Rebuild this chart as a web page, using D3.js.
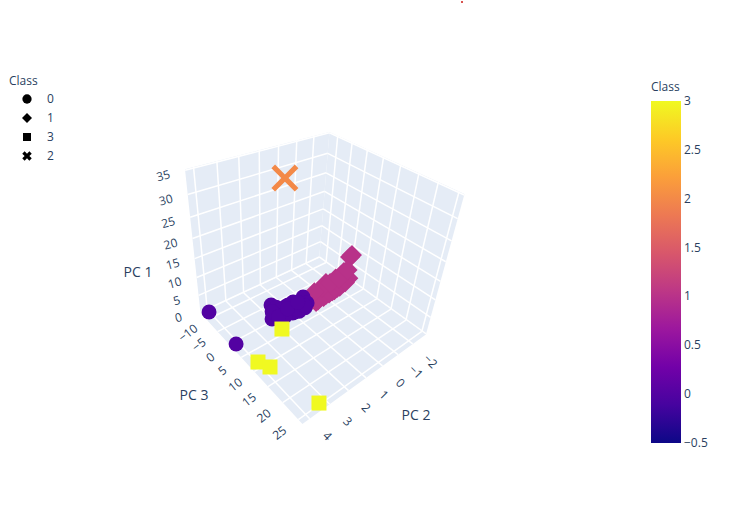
<!DOCTYPE html>
<html><head><meta charset="utf-8">
<script src="https://cdn.jsdelivr.net/npm/d3@7"></script>
<style>html,body{margin:0;background:#fff}svg{display:block}text{font-family:"Open Sans",sans-serif}</style>
</head><body><svg id="c" width="740" height="529"></svg>
<script>
// Data: each mark is [PC 1, PC 2, PC 3]
const class0 = [[1,4.13,-10.76],[1,4.23,1.99],[7.96,2.56,3],[3.82,2.5,3],[5.59,1.35,3],[5.54,0.77,3],[3.06,0.5,3],[4.35,2.07,3],[3.07,1.5,3],[3.46,1.1,3],[5.19,1.97,3],[5.42,2.34,3],[5.35,1.8,3],[4.17,0.94,3],[4.95,2.18,3],[3.27,1.8,3],[2.29,1.23,3],[2.69,0.94,3],[5.48,1.62,3],[1.89,0.61,3],[6.6,2.29,3],[5.9,2.5,3],[2.3,1.34,3],[2.67,1.77,3],[3.46,2.15,3],[1.81,0.96,3],[2.64,0.64,3],[4.43,1.66,3],[4.78,1.07,3]];
const class1 = [[10.8,-2.19,3],[10.49,-2.07,3],[6.74,-1.77,3],[4.81,-1.82,3],[6.19,-0.61,3],[4.73,-1.1,3],[5.17,-1.41,3],[2.66,-0.95,3],[2.74,-1.41,3],[3.34,-1.8,3],[3.08,-0.3,3],[2.38,-0.69,3],[3.16,0.2,3],[1.85,-0.07,3],[4.57,-0.33,3],[4.25,-0.75,3],[6.01,-1.24,3],[6.17,-1.59,3],[4.01,-2.03,3],[3.61,-1.59,3],[2.49,-1.1,3],[4.57,-0.05,3],[3.93,-2.15,3],[3.13,-1.94,3],[2.65,-1.59,3],[2.49,-1.24,3],[2.33,-0.89,3],[2.17,-0.54,3],[2.01,-0.19,3],[5.37,-0.4,3],[5.53,-0.89,3],[5.53,-1.45,3],[5.21,0.09,3],[6.81,-2.01,3]];
const class2 = [[31.67,0.8,-5]];
const class3 = [[1,2.17,4.56],[1,4.07,9.28],[1,3.84,11.98],[1,3.42,25.35]];
const classOrder = ["0","1","3","2"];
const pc1Ticks = [0,5,10,15,20,25,30,35];
const pc2Ticks = [-2,-1,0,1,2,3,4];
const pc3Ticks = [-10,-5,0,5,10,15,20,25];
const colorbarTicks = [-0.5,0,0.5,1,1.5,2,2.5,3];
const plasma = ["#0d0887","#46039f","#7201a8","#9c179e","#bd3786","#d8576b","#ed7953","#fb9f3a","#fdca26","#f0f921"];

const svg = d3.select("#c");
const INK="#2a3f5f", BG="#e5ecf6";
const sx = d3.scaleLinear([-2.95,4.35],[0,1]);
const sy = d3.scaleLinear([-13,26.25],[0,1]);
const sz = d3.scaleLinear([-0.2,35.2],[0,1]);
const corr = [
 [[1,0,0],[200,314]],[[1,1,0],[303,423]],[[0,1,0],[425,336]],[[0,0,0],[320,256]],
 [[1,0,1],[185,169]],[[0,0,1],[329,133]],[[0,1,1],[465,193]]
];
function fit(c){
  const A=[],b=[];
  c.forEach(([p,s])=>{const [x,y,z]=p,[u,v]=s;
    A.push([x,y,z,1,0,0,0,0,-u*x,-u*y,-u*z]);b.push(u);
    A.push([0,0,0,0,x,y,z,1,-v*x,-v*y,-v*z]);b.push(v);});
  const n=11,M=d3.range(n).map(i=>d3.range(n+1).map(j=>{let t=0;for(let k=0;k<A.length;k++)t+=A[k][i]*(j<n?A[k][j]:b[k]);return t;}));
  for(let i=0;i<n;i++){let m=i;for(let r=i+1;r<n;r++)if(Math.abs(M[r][i])>Math.abs(M[m][i]))m=r;[M[i],M[m]]=[M[m],M[i]];
    for(let r=0;r<n;r++)if(r!==i){const f=M[r][i]/M[i][i];for(let j=i;j<=n;j++)M[r][j]-=f*M[i][j];}}
  return M.map((r,i)=>r[n]/r[i]);
}
const P=fit(corr);
function proj(u,v,w){const d=P[8]*u+P[9]*v+P[10]*w+1;return [(P[0]*u+P[1]*v+P[2]*w+P[3])/d,(P[4]*u+P[5]*v+P[6]*w+P[7])/d];}
const pt=(pc1,pc2,pc3)=>proj(sx(pc2),sy(pc3),sz(pc1));
const poly=a=>a.map(q=>proj(...q).join(",")).join(" ");

[[[1,0,0],[1,1,0],[0,1,0],[0,0,0]],[[1,0,0],[0,0,0],[0,0,1],[1,0,1]],[[0,0,0],[0,1,0],[0,1,1],[0,0,1]]]
 .forEach(f=>svg.append("polygon").attr("points",poly(f)).attr("fill",BG));
const line=(a,b)=>{const[p,q]=[proj(...a),proj(...b)];svg.append("line").attr("x1",p[0]).attr("y1",p[1]).attr("x2",q[0]).attr("y2",q[1]).attr("stroke","#fff").attr("stroke-width",1.5);};
pc1Ticks.forEach(t=>{const w=sz(t);line([1,0,w],[0,0,w]);line([0,0,w],[0,1,w]);});
pc2Ticks.forEach(t=>{const u=sx(t);line([u,0,0],[u,1,0]);line([u,0,0],[u,0,1]);});
pc3Ticks.forEach(t=>{const v=sy(t);line([1,v,0],[0,v,0]);line([0,v,0],[0,v,1]);});

function label(t,x,y,rot,size){svg.append("text").attr("transform",`translate(${x},${y}) rotate(${rot})`).attr("text-anchor","middle").attr("dominant-baseline","central").attr("font-size",size).attr("fill",INK).text(String(t).replace("-","\u2212"));}
pc1Ticks.forEach(t=>{const p=proj(1,0,sz(t));label(t,p[0]-22,p[1]+5,-15,12);});
pc3Ticks.forEach(t=>{const p=proj(1,sy(t),0);label(t,p[0]-19,p[1]+13,-38,12);});
pc2Ticks.forEach(t=>{const p=proj(sx(t),1,0);label(t,p[0]+18,p[1]+17,45,12);});
label("PC 1",138,271,0,14);label("PC 3",194,394,0,14);label("PC 2",416,414,0,14);

const diamond={draw(c,s){const r=Math.sqrt(s/2);c.moveTo(0,-r);c.lineTo(r,0);c.lineTo(0,r);c.lineTo(-r,0);c.closePath();}};
const cross={draw(c,s){const r=Math.sqrt(s)/2,t=r*0.27;const q=[[-t,0],[-r,r-t],[-r+t,r],[0,t],[r-t,r],[r,r-t],[t,0],[r,-r+t],[r-t,-r],[0,-t],[-r+t,-r],[-r,-r+t]];q.forEach((p,i)=>i?c.lineTo(p[0],p[1]):c.moveTo(p[0],p[1]));c.closePath();}};
const crossThick={draw(c,s){const r=Math.sqrt(s)/2,t=r*0.5;const q=[[-t,0],[-r,r-t],[-r+t,r],[0,t],[r-t,r],[r,r-t],[t,0],[r,-r+t],[r-t,-r],[0,-t],[-r+t,-r],[-r,-r+t]];q.forEach((p,i)=>i?c.lineTo(p[0],p[1]):c.moveTo(p[0],p[1]));c.closePath();}};
const cmap=d3.scaleSequential(d3.piecewise(d3.interpolateRgb,plasma)).domain([-0.5,3]);
const put=(arr,type,size,color)=>svg.append("g").selectAll("path").data(arr).join("path").attr("transform",d=>{const p=pt(...d);return `translate(${p[0]},${p[1]})`;}).attr("d",d3.symbol().type(type).size(size)()).attr("fill",color);
put(class1,diamond,200,cmap(1));
put(class0,d3.symbolCircle,175,cmap(0));
put(class3,d3.symbolSquare,225,cmap(3));
put(class2,cross,729,cmap(2));

// small red speck at the top edge of the reference
svg.append("rect").attr("x",461).attr("y",1).attr("width",2).attr("height",2).attr("fill","#d9534f");

svg.append("text").attr("x",9).attr("y",85).attr("font-size",12).attr("fill",INK).text("Class");
const legendSym={"0":[d3.symbolCircle,68],"1":[diamond,50],"3":[d3.symbolSquare,64],"2":[crossThick,90]};
classOrder.forEach((c,i)=>{const y=99+i*19;const s=legendSym[c];
 svg.append("path").attr("transform",`translate(27,${y})`).attr("d",d3.symbol().type(s[0]).size(s[1])()).attr("fill","#000");
 svg.append("text").attr("x",47).attr("y",y+4).attr("font-size",12).attr("fill",INK).text(c);});

const cs=d3.scaleLinear([-0.5,3],[443,101]);
const grad=svg.append("defs").append("linearGradient").attr("id","g").attr("x1",0).attr("y1",1).attr("x2",0).attr("y2",0);
plasma.forEach((c,i)=>grad.append("stop").attr("offset",i/9).attr("stop-color",c));
svg.append("rect").attr("x",651).attr("y",101).attr("width",30).attr("height",342).attr("fill","url(#g)");
svg.append("text").attr("x",651).attr("y",91).attr("font-size",12).attr("fill",INK).text("Class");
colorbarTicks.forEach(t=>svg.append("text").attr("x",684).attr("y",cs(t)+4).attr("font-size",12).attr("fill",INK).text(String(t).replace("-","\u2212")));
</script></body></html>
